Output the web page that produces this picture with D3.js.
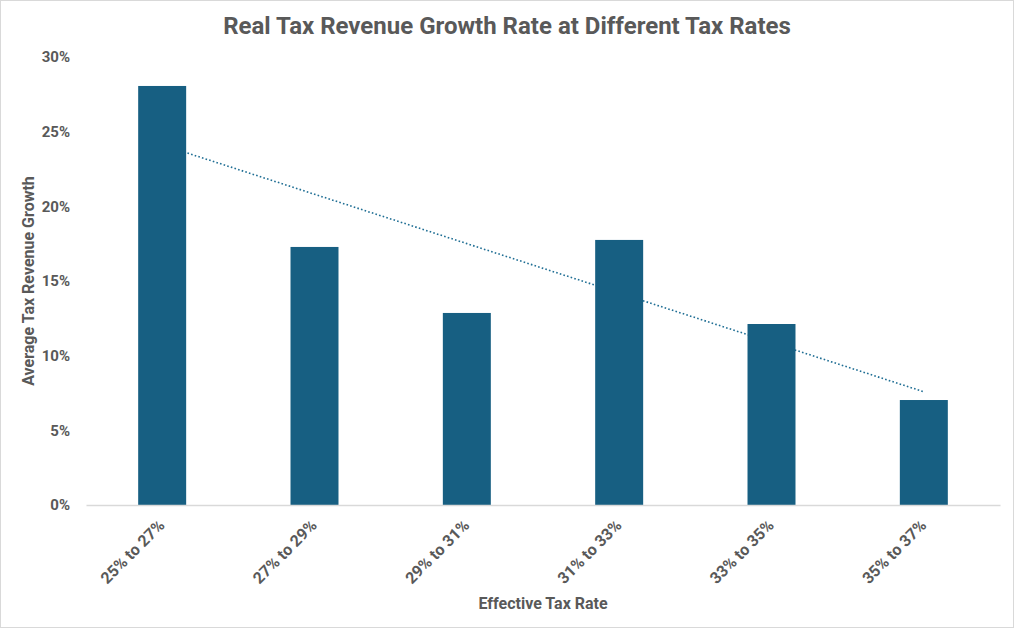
<!DOCTYPE html>
<html>
<head>
<meta charset="utf-8">
<script src="https://cdn.jsdelivr.net/npm/d3@7"></script>
<style>
  body { margin: 0; background: #fff; }
  svg { display: block; font-family: Roboto, "Noto Sans", sans-serif; }
</style>
</head>
<body>
<svg width="1014" height="628"></svg>
<script>
const categories = ["25% to 27%", "27% to 29%", "29% to 31%", "31% to 33%", "33% to 35%", "35% to 37%"];
const growth = [0.2806, 0.1728, 0.1286, 0.1775, 0.1212, 0.0703];
const yTicks = [0, 0.05, 0.10, 0.15, 0.20, 0.25, 0.30];

const W = 1014, H = 628;
const margin = { top: 57, right: 14, bottom: 123, left: 86 };
const svg = d3.select("svg");

// chart border
svg.append("rect")
  .attr("x", 0.5).attr("y", 0.5)
  .attr("width", W - 1).attr("height", H - 1)
  .attr("fill", "#fff").attr("stroke", "#d9d9d9");

const x = d3.scaleBand()
  .domain(categories)
  .range([margin.left, W - margin.right])
  .paddingInner(0.685).paddingOuter(0.3425);

const y = d3.scaleLinear()
  .domain([0, 0.30])
  .range([H - margin.bottom, margin.top]);

// title
svg.append("text")
  .attr("x", W / 2).attr("y", 34)
  .attr("text-anchor", "middle")
  .attr("font-size", 24).attr("font-weight", "bold")
  .attr("fill", "#595959")
  .text("Real Tax Revenue Growth Rate at Different Tax Rates");

// y axis labels
const yAxis = d3.axisLeft(y).tickValues(yTicks).tickFormat(d3.format(".0%")).tickSize(0).tickPadding(16);
const yg = svg.append("g").attr("transform", `translate(${margin.left},0)`).call(yAxis);
yg.select(".domain").remove();
yg.selectAll("text")
  .attr("font-size", 15).attr("font-weight", "bold")
  .attr("font-family", "Roboto, 'Noto Sans', sans-serif")
  .attr("fill", "#595959");

// trendline (linear fit), drawn under the bars
const xs = categories.map((c, i) => i + 1);
const mx = d3.mean(xs), my = d3.mean(growth);
const slope = d3.sum(xs, (v, i) => (v - mx) * (growth[i] - my)) / d3.sum(xs, v => (v - mx) ** 2);
const icpt = my - slope * mx;
const trend = categories.map((c, i) => ({ c, v: icpt + slope * (i + 1) }));
svg.append("path")
  .datum(trend)
  .attr("fill", "none")
  .attr("stroke", "#1f6e94")
  .attr("stroke-width", 1.6)
  .attr("stroke-dasharray", "1.6,2.2")
  .attr("d", d3.line().x(d => x(d.c) + x.bandwidth() / 2).y(d => y(d.v)));

// bars
svg.selectAll(".bar")
  .data(categories)
  .join("rect")
  .attr("class", "bar")
  .attr("x", d => x(d))
  .attr("width", x.bandwidth())
  .attr("y", (d, i) => y(growth[i]))
  .attr("height", (d, i) => y(0) - y(growth[i]))
  .attr("fill", "#175f82");

// x axis
const xAxis = d3.axisBottom(x).tickSize(0).tickPadding(12);
const xg = svg.append("g").attr("transform", `translate(0,${y(0)})`).call(xAxis);
xg.select(".domain").attr("stroke", "#d9d9d9").attr("stroke-width", 1.3);
xg.selectAll("text")
  .attr("font-size", 16).attr("font-weight", "bold")
  .attr("font-family", "Roboto, 'Noto Sans', sans-serif")
  .attr("fill", "#595959")
  .attr("text-anchor", "end")
  .attr("dy", "0.35em")
  .attr("transform", "translate(-9,9) rotate(-45)");

// axis titles
svg.append("text")
  .attr("x", (margin.left + W - margin.right) / 2).attr("y", 609)
  .attr("text-anchor", "middle")
  .attr("font-size", 16).attr("font-weight", "bold")
  .attr("fill", "#595959")
  .text("Effective Tax Rate");

svg.append("text")
  .attr("transform", `translate(34,${(margin.top + H - margin.bottom) / 2}) rotate(-90)`)
  .attr("text-anchor", "middle")
  .attr("font-size", 16).attr("font-weight", "bold")
  .attr("fill", "#595959")
  .text("Average Tax Revenue Growth");
</script>
</body>
</html>
